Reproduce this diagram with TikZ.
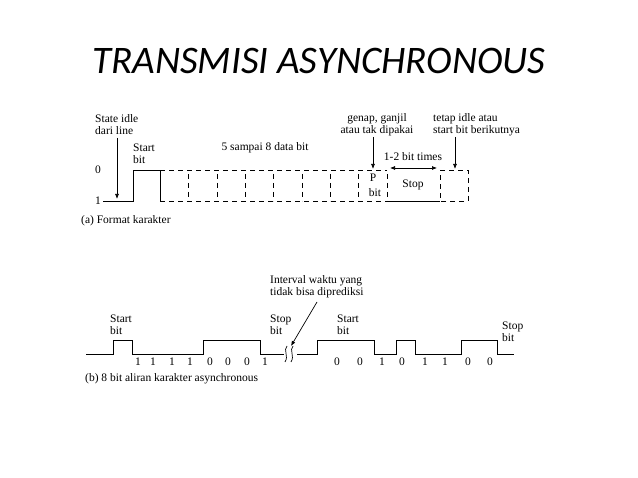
\documentclass[tikz,border=0pt]{standalone}
\usepackage{fontspec}
\setmainfont{Liberation Serif}
\newfontfamily\titlefont{Carlito}
\usetikzlibrary{arrows.meta}
\begin{document}
\begin{tikzpicture}[x=1pt,y=-1pt,
  lbl/.style={font=\fontsize{11.5}{12}\selectfont,inner sep=0pt,align=left},
  sig/.style={line width=0.8pt},
  dsh/.style={line width=0.8pt,dash pattern=on 5pt off 4pt},
  arr/.style={line width=0.7pt,-{Latex[length=5pt,width=4pt]}},
  darr/.style={line width=0.7pt,{Latex[length=5pt,width=4pt]}-{Latex[length=5pt,width=4pt]}}]
\useasboundingbox (0,0) rectangle (638,478);
\node (title) at (319,61) {\titlefont\itshape\fontsize{39}{42}\selectfont TRANSMISI ASYNCHRONOUS};
% (a)
\node[lbl] (one) at (98,201) {1};
\node[lbl] (zero) at (98,170) {0};
\draw[sig] (103,201) -- (133,201) -- (133,170) -- (160,170) -- (160,201);
\draw[dsh] (160,170) -- (387,170);
\draw[dsh] (160,201) -- (387,201);
\foreach \x in {188,217,245,273,302,330,358,387}{\draw[dsh] (\x,174) -- (\x,201);}
\draw[sig] (387,201) -- (440,201);
\draw[dsh] (440,170) -- (468,170) -- (468,201) -- (440,201) -- (440,170);
\node[lbl] (idle) at (95,125) [anchor=west] {State idle\\dari line};
\coordinate (idleA) at (117,138); \coordinate (idleB) at (117,199);
\draw[arr] (idleA) -- (idleB);
\node[lbl] (sb) at (133,154) [anchor=west] {Start\\bit};
\node[lbl] (data) at (265,148) {5 sampai 8 data bit};
\node[lbl,align=center] (par) at (377,125) {genap, ganjil\\atau tak dipakai};
\coordinate (parA) at (373,137); \coordinate (parB) at (373,169);
\draw[arr] (parA) -- (parB);
\node[lbl] (P) at (373,178) {P};
\node[lbl] (Pb) at (375,193) {bit};
\node[lbl] (bt) at (413,157) {1-2 bit times};
\coordinate (btA) at (390,168); \coordinate (btB) at (437,168);
\draw[darr] (btA) -- (btB);
\node[lbl] (stop) at (413,185) {Stop};
\node[lbl] (next) at (433,125) [anchor=west] {tetap idle atau\\start bit berikutnya};
\coordinate (nA) at (455,137); \coordinate (nB) at (455,169);
\draw[arr] (nA) -- (nB);
\node[lbl] (capa) at (81,221) [anchor=west] {(a) Format karakter};
% (b)
\draw[sig] (86,354) -- (113,354) -- (113,340) -- (132,340) -- (132,354) -- (203,354) -- (203,340) -- (260,340) -- (260,354) -- (284,354);
\draw[sig] (297,354) -- (317,354) -- (317,340) -- (374,340) -- (374,354) -- (396,354) -- (396,340) -- (415,340) -- (415,354) -- (461,354) -- (461,340) -- (497,340) -- (497,354) -- (514,354);
\draw[line width=0.7pt] (287,346) .. controls (283,350) and (289,356) .. (285,362);
\draw[line width=0.7pt] (293,346) .. controls (289,350) and (295,356) .. (291,362);
\foreach \x/\d in {138/1,153/1,172/1,190/1,210/0,228/0,247/0,265/1,337/0,360/0,382/1,402/0,425/1,445/1,468/0,490/0}{\node[lbl] at (\x,362) {\d};}
\node[lbl] (sb1) at (110,325) [anchor=west] {Start\\bit};
\node[lbl] (st1) at (270,325) [anchor=west] {Stop\\bit};
\node[lbl] (sb2) at (337,325) [anchor=west] {Start\\bit};
\node[lbl] (st2) at (502,332) [anchor=west] {Stop\\bit};
\node[lbl] (intv) at (270,287) [anchor=west] {Interval waktu yang\\tidak bisa diprediksi};
\coordinate (iA) at (317,302); \coordinate (iB) at (291,346);
\draw[arr] (iA) -- (iB);
\node[lbl] (capb) at (85,379) [anchor=west] {(b) 8 bit aliran karakter asynchronous};
\end{tikzpicture}
\end{document}
